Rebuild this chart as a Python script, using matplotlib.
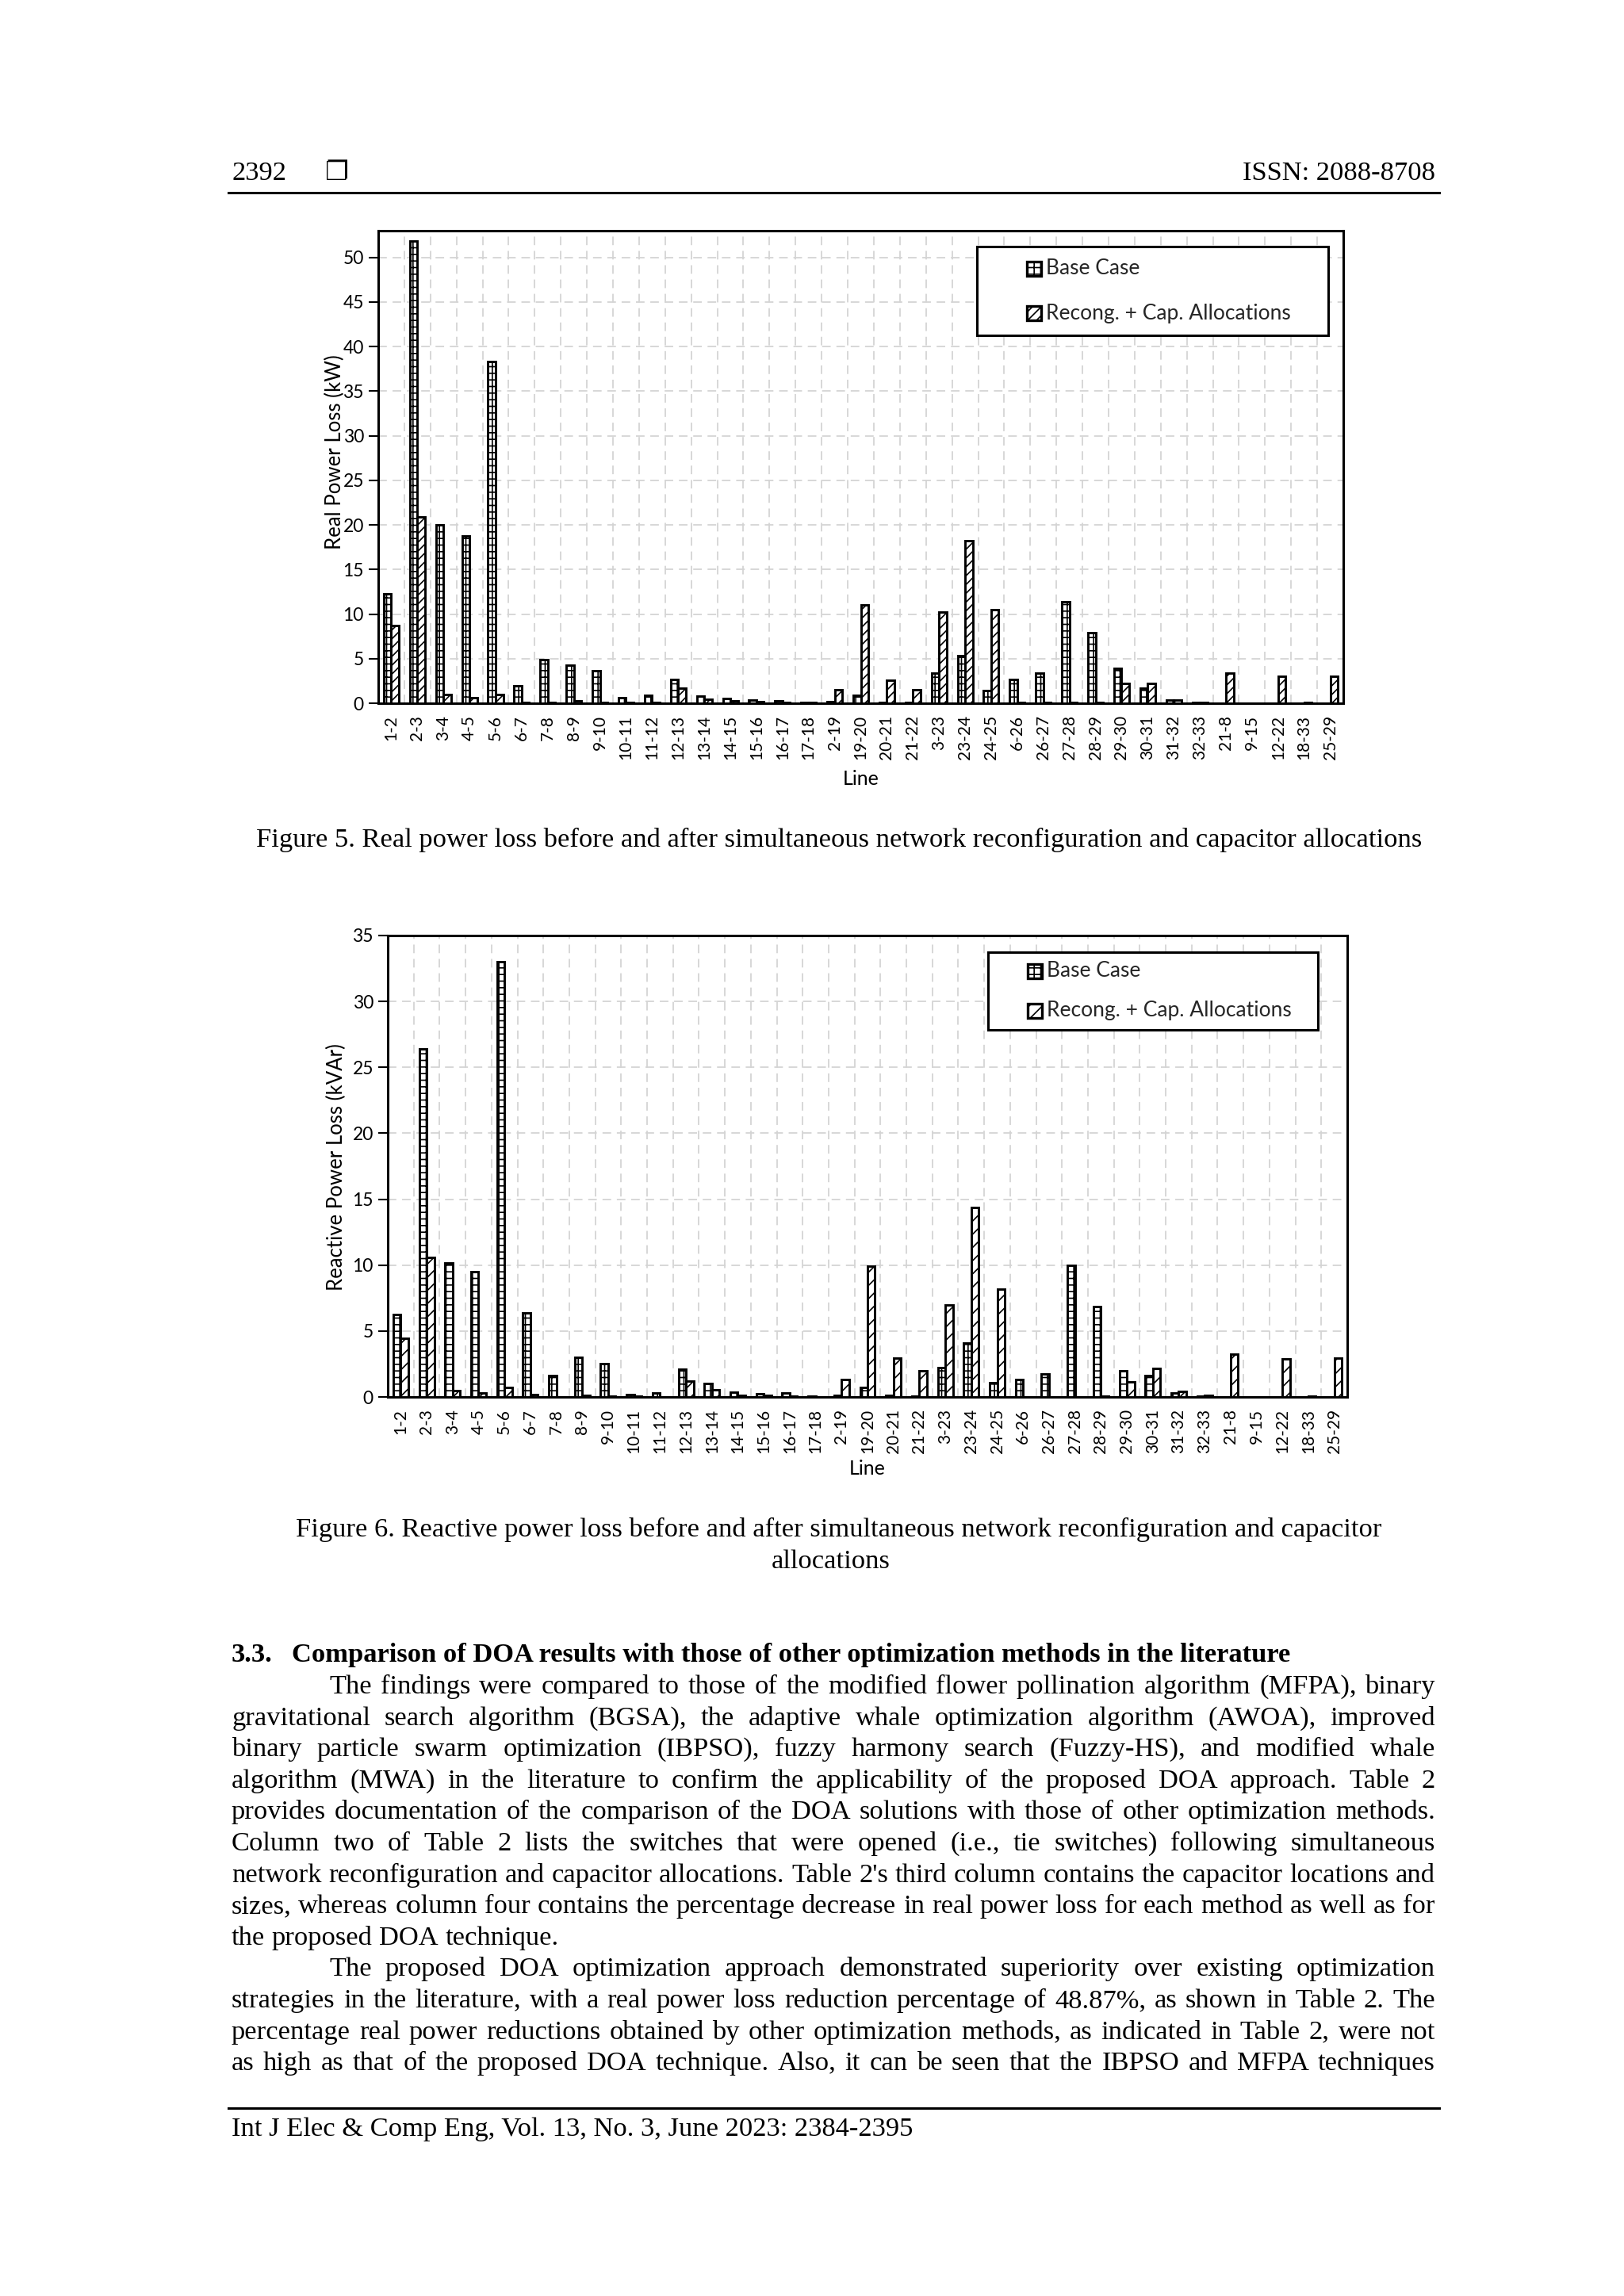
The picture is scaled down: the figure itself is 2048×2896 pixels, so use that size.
import matplotlib
matplotlib.use('Agg')
import numpy as np
import matplotlib.pyplot as plt
from matplotlib.patches import Rectangle
from matplotlib.lines import Line2D

W, H = 2048, 2896

lines = ['1-2', '2-3', '3-4', '4-5', '5-6', '6-7', '7-8', '8-9', '9-10', '10-11',
         '11-12', '12-13', '13-14', '14-15', '15-16', '16-17', '17-18', '2-19',
         '19-20', '20-21', '21-22', '3-23', '23-24', '24-25', '6-26', '26-27',
         '27-28', '28-29', '29-30', '30-31', '31-32', '32-33', '21-8', '9-15',
         '12-22', '18-33', '25-29']

real_base = [12.3, 51.8, 20.0, 18.8, 38.3, 2.0, 4.9, 4.25, 3.65, 0.6, 0.9, 2.7, 0.8,
             0.5, 0.35, 0.3, 0.1, 0.2, 0.9, 0.1, 0.05, 3.35, 5.3, 1.45, 2.7, 3.4,
             11.35, 7.9, 3.95, 1.7, 0.35, 0.1, 0, 0, 0, 0, 0]
real_recon = [8.7, 20.9, 1.0, 0.6, 1.0, 0.1, 0.05, 0.25, 0.1, 0.1, 0.05, 1.65, 0.45,
              0.25, 0.15, 0.1, 0.05, 1.5, 11.05, 2.6, 1.5, 10.25, 18.25, 10.5, 0.1,
              0.1, 0.05, 0.1, 2.25, 2.25, 0.4, 0.1, 3.35, 0, 3.0, 0.05, 3.05]

react_base = [6.25, 26.4, 10.15, 9.5, 33.0, 6.4, 1.65, 3.0, 2.55, 0.2, 0.3, 2.1, 1.0,
              0.35, 0.25, 0.3, 0.05, 0.15, 0.75, 0.1, 0.05, 2.25, 4.1, 1.1, 1.35,
              1.75, 10.0, 6.85, 2.0, 1.6, 0.3, 0.05, 0, 0, 0, 0, 0]
react_recon = [4.45, 10.6, 0.47, 0.3, 0.75, 0.2, 0, 0.15, 0.05, 0.05, 0, 1.2, 0.55,
               0.15, 0.1, 0.05, 0, 1.35, 9.9, 2.95, 2.0, 6.95, 14.4, 8.2, 0, 0, 0,
               0.05, 1.15, 2.15, 0.4, 0.1, 3.25, 0, 2.9, 0.05, 2.95]

series_names = ['Base Case', 'Recong. + Cap. Allocations']

para1 = [
    "The findings were compared to those of the modified flower pollination algorithm (MFPA), binary",
    "gravitational search algorithm (BGSA), the adaptive whale optimization algorithm (AWOA), improved",
    "binary particle swarm optimization (IBPSO), fuzzy harmony search (Fuzzy-HS), and modified whale",
    "algorithm (MWA) in the literature to confirm the applicability of the proposed DOA approach. Table 2",
    "provides documentation of the comparison of the DOA solutions with those of other optimization methods.",
    "Column two of Table 2 lists the switches that were opened (i.e., tie switches) following simultaneous",
    "network reconfiguration and capacitor allocations. Table 2's third column contains the capacitor locations and",
    "sizes, whereas column four contains the percentage decrease in real power loss for each method as well as for",
    "the proposed DOA technique.",
]
para2 = [
    "The proposed DOA optimization approach demonstrated superiority over existing optimization",
    "strategies in the literature, with a real power loss reduction percentage of 48.87%, as shown in Table 2. The",
    "percentage real power reductions obtained by other optimization methods, as indicated in Table 2, were not",
    "as high as that of the proposed DOA technique. Also, it can be seen that the IBPSO and MFPA techniques",
]

plt.rcParams['hatch.linewidth'] = 1.2
SERIF = ['Liberation Serif', 'DejaVu Serif', 'DejaVu Sans']
SANS = ['Lato', 'DejaVu Sans']
BODY = 24.8

fig = plt.figure(figsize=(W / 100, H / 100), dpi=100)
renderer = fig.canvas.get_renderer()


def fx(x):
    return x / W


def fy(y):
    return 1 - y / H


def px_axes(l, t, r, b):
    return fig.add_axes([fx(l), fy(b), (r - l) / W, (b - t) / H])


def put(x, y, s, **kw):
    kw.setdefault('family', SERIF)
    kw.setdefault('fontsize', BODY)
    kw.setdefault('va', 'baseline')
    return fig.text(fx(x), fy(y), s, **kw)


def justify(line, y, x0, x1, last=False, **kw):
    words = line.split()
    texts = [put(0, y, w, **kw) for w in words]
    widths = [t.get_window_extent(renderer).width for t in texts]
    if last or len(words) == 1:
        a = put(0, y, 'a a', **kw)
        b = put(0, y, 'aa', **kw)
        gap = a.get_window_extent(renderer).width - b.get_window_extent(renderer).width
        a.remove()
        b.remove()
    else:
        gap = (x1 - x0 - sum(widths)) / (len(words) - 1)
    x = x0
    for t, w in zip(texts, widths):
        t.set_x(fx(x))
        x += w + gap


def draw_chart(ax, base, recon, ymax, yticks, recon_hatch):
    x = np.arange(len(lines))
    w = 0.29
    ax.bar(x - w / 2, base, w, facecolor='white', edgecolor='black',
           linewidth=2.1, hatch='++', zorder=3)
    ax.bar(x + w / 2, recon, w, facecolor='white', edgecolor='black',
           linewidth=2.1, hatch=recon_hatch, zorder=3)
    ax.set_xlim(-0.5, len(lines) - 0.5)
    ax.set_ylim(0, ymax)
    ax.set_xticks(x)
    ax.set_xticklabels(lines, rotation=90, family=SANS, fontsize=15)
    ax.set_xticks(x[:-1] + 0.5, minor=True)
    ax.tick_params(axis='x', which='both', length=0, pad=11)
    ax.set_yticks(yticks)
    ax.tick_params(axis='y', direction='out', length=9, width=1.5, pad=4, labelsize=16.5)
    for lab in ax.get_yticklabels():
        lab.set_family(SANS)
    ax.grid(True, which='minor', axis='x', color='#d4d4d4', linestyle=(0, (6, 4)), linewidth=1.3)
    ax.grid(True, which='major', axis='y', color='#d4d4d4', linestyle=(0, (6, 4)), linewidth=1.3)
    ax.grid(False, which='major', axis='x')
    ax.set_axisbelow(True)
    for s in ax.spines.values():
        s.set_linewidth(2.2)


def legend_box(l, t, r, b, hx, ys, tx, recon_hatch):
    fig.add_artist(Rectangle((fx(l), fy(b)), (r - l) / W, (b - t) / H, transform=fig.transFigure,
                             facecolor='white', edgecolor='black', linewidth=2.2, zorder=5))
    for yy, name, hatch in zip(ys, series_names, ['++', recon_hatch]):
        fig.add_artist(Rectangle((fx(hx), fy(yy + 9)), 18 / W, 18 / H, transform=fig.transFigure,
                                 facecolor='white', edgecolor='black', linewidth=2.4,
                                 hatch=hatch, zorder=6))
        fig.text(fx(tx), fy(yy), name, family=SANS, fontsize=19, color='#262626',
                 va='center', ha='left', zorder=6)


# header
put(292, 227, '2392')
put(410, 227, '\u2750', family=['DejaVu Sans'], fontsize=24)
put(1810, 227, 'ISSN: 2088-8708', ha='right')
fig.add_artist(Line2D([fx(288), fx(1815)], [fy(243), fy(243)], color='black', linewidth=2.2))

# figure 5
ax1 = px_axes(477, 291, 1694, 887)
draw_chart(ax1, real_base, real_recon, 53, np.arange(0, 51, 5), '///')
ax1.text(-0.045, 0.532, 'Real Power Loss (kW)', transform=ax1.transAxes, rotation=90,
         ha='center', va='center', family=SANS, fontsize=18.5)
ax1.text(0.5, -0.161, 'Line', transform=ax1.transAxes, ha='center', va='center',
         family=SANS, fontsize=18)
legend_box(1232, 311, 1675, 423, 1295, [339, 395], 1319, '///')
put(1058, 1068, 'Figure 5. Real power loss before and after simultaneous network '
    'reconfiguration and capacitor allocations', ha='center')

# figure 6
ax2 = px_axes(489, 1180, 1699, 1762)
draw_chart(ax2, react_base, react_recon, 35, np.arange(0, 36, 5), '//')
ax2.text(-0.053, 0.498, 'Reactive Power Loss (kVAr)', transform=ax2.transAxes, rotation=90,
         ha='center', va='center', family=SANS, fontsize=18.5)
ax2.text(0.5, -0.156, 'Line', transform=ax2.transAxes, ha='center', va='center',
         family=SANS, fontsize=18)
legend_box(1246, 1201, 1662, 1299, 1296, [1225, 1275], 1320, '//')
put(1058, 1938, 'Figure 6. Reactive power loss before and after simultaneous network '
    'reconfiguration and capacitor', ha='center')
put(1048, 1978, 'allocations', ha='center')

# section 3.3
put(292, 2096, '3.3.', weight='bold')
put(368, 2096, 'Comparison of DOA results with those of other optimization methods in the literature',
    weight='bold')
y0 = 2136
step = 39.6
for i, ln in enumerate(para1):
    x0 = 415 if i == 0 else 292
    justify(ln, y0 + i * step, x0, 1810, last=(i == len(para1) - 1))
y0 = y0 + len(para1) * step
for i, ln in enumerate(para2):
    x0 = 415 if i == 0 else 292
    justify(ln, y0 + i * step, x0, 1810)

# footer
fig.add_artist(Line2D([fx(288), fx(1815)], [fy(2659), fy(2659)], color='black', linewidth=2.2))
put(292, 2694, 'Int J Elec & Comp Eng, Vol. 13, No. 3, June 2023: 2384-2395')

fig.savefig('out.png', dpi=100, facecolor='white')
